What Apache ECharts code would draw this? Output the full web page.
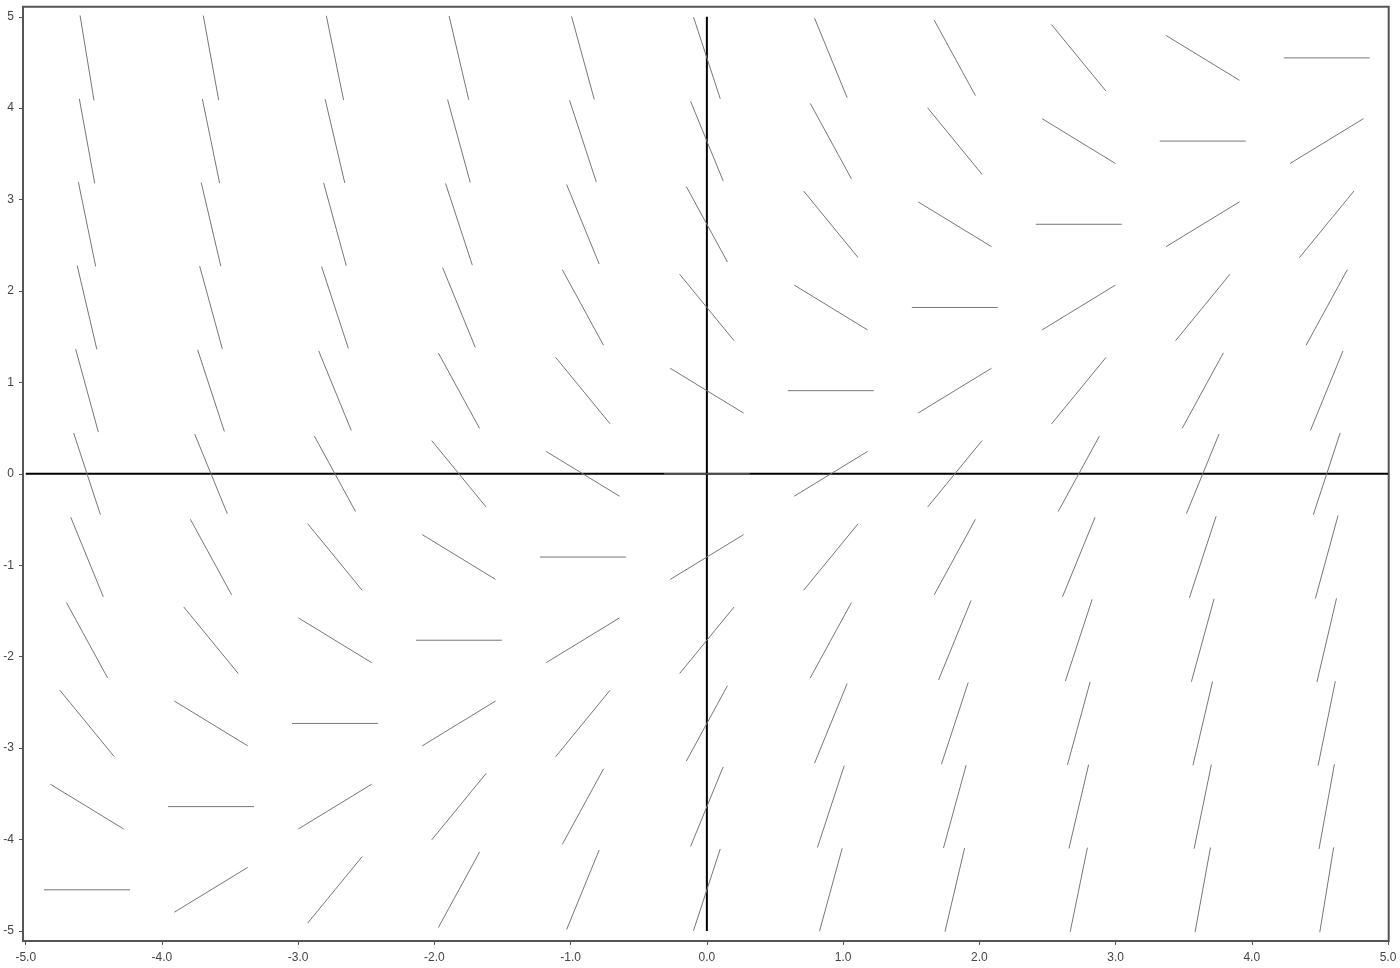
<!DOCTYPE html>
<html>
<head>
<meta charset="utf-8">
<script src="https://cdn.jsdelivr.net/npm/echarts@6/dist/echarts.min.js"></script>
<style>
html,body{margin:0;padding:0;background:#fff;}
#chart{width:1400px;height:968px;}
</style>
</head>
<body>
<div id="chart"></div>
<script>
// Grid sample positions (x across, y rows from top to bottom)
const gridX = [-4.55, -3.64, -2.73, -1.82, -0.91, 0, 0.91, 1.82, 2.73, 3.64, 4.55];
const gridY = [4.55, 3.64, 2.73, 1.82, 0.91, 0, -0.91, -1.82, -2.73, -3.64, -4.55];
// Slope read at each sample point; one row per gridY entry, one column per gridX entry
const slopes = [
  [-9.09, -8.18, -7.27, -6.36, -5.45, -4.55, -3.64, -2.73, -1.82, -0.91, 0],
  [-8.18, -7.27, -6.36, -5.45, -4.55, -3.64, -2.73, -1.82, -0.91, 0, 0.91],
  [-7.27, -6.36, -5.45, -4.55, -3.64, -2.73, -1.82, -0.91, 0, 0.91, 1.82],
  [-6.36, -5.45, -4.55, -3.64, -2.73, -1.82, -0.91, 0, 0.91, 1.82, 2.73],
  [-5.45, -4.55, -3.64, -2.73, -1.82, -0.91, 0, 0.91, 1.82, 2.73, 3.64],
  [-4.55, -3.64, -2.73, -1.82, -0.91, 0, 0.91, 1.82, 2.73, 3.64, 4.55],
  [-3.64, -2.73, -1.82, -0.91, 0, 0.91, 1.82, 2.73, 3.64, 4.55, 5.45],
  [-2.73, -1.82, -0.91, 0, 0.91, 1.82, 2.73, 3.64, 4.55, 5.45, 6.36],
  [-1.82, -0.91, 0, 0.91, 1.82, 2.73, 3.64, 4.55, 5.45, 6.36, 7.27],
  [-0.91, 0, 0.91, 1.82, 2.73, 3.64, 4.55, 5.45, 6.36, 7.27, 8.18],
  [0, 0.91, 1.82, 2.73, 3.64, 4.55, 5.45, 6.36, 7.27, 8.18, 9.09]
];
const xTicks = [-5, -4, -3, -2, -1, 0, 1, 2, 3, 4, 5];
const yTicks = [-5, -4, -3, -2, -1, 0, 1, 2, 3, 4, 5];
const xAxisLine = [[-5, 0], [5, 0]];
const yAxisLine = [[0, -5], [0, 5]];

const fieldData = [];
gridY.forEach((y, r) => {
  gridX.forEach((x, c) => {
    fieldData.push([x, y, slopes[r][c]]);
  });
});

const HALF = 43;
function renderSeg(params, api) {
  const x = api.value(0), y = api.value(1), m = api.value(2);
  const c = api.coord([x, y]);
  const p = api.coord([x + 1, y + m]);
  let dx = p[0] - c[0], dy = p[1] - c[1];
  const len = Math.sqrt(dx * dx + dy * dy) || 1;
  dx = dx / len * HALF; dy = dy / len * HALF;
  return {
    type: 'line',
    shape: { x1: c[0] - dx, y1: c[1] - dy, x2: c[0] + dx, y2: c[1] + dy },
    style: { stroke: '#777', lineWidth: 1 }
  };
}

const chart = echarts.init(document.getElementById('chart'));
chart.setOption({
  animation: false,
  backgroundColor: '#fff',
  grid: { left: 23, right: 11.3, top: 6.7, bottom: 27, show: true, borderColor: '#555', borderWidth: 2, backgroundColor: 'transparent' },
  xAxis: {
    type: 'value', min: -5.02, max: 5.005, position: 'bottom',
    axisLine: { show: false, onZero: false },
    splitLine: { show: false },
    axisTick: { show: true, customValues: xTicks, length: 4, lineStyle: { color: '#555' } },
    axisLabel: { customValues: xTicks, margin: 11, color: '#444', fontSize: 12, fontFamily: 'Arial, Liberation Sans, sans-serif', formatter: v => v.toFixed(1) }
  },
  yAxis: {
    type: 'value', min: -5.11, max: 5.11, position: 'left',
    axisLine: { show: false, onZero: false },
    splitLine: { show: false },
    axisTick: { show: true, customValues: yTicks, length: 4, lineStyle: { color: '#555' } },
    axisLabel: { customValues: yTicks, margin: 9, color: '#444', fontSize: 12, fontFamily: 'Arial, Liberation Sans, sans-serif', formatter: v => String(v) }
  },
  series: [
    { type: 'line', data: xAxisLine, symbol: 'none', lineStyle: { color: '#000', width: 2 }, z: 2, silent: true },
    { type: 'line', data: yAxisLine, symbol: 'none', lineStyle: { color: '#000', width: 2 }, z: 3, silent: true },
    { type: 'custom', data: fieldData, renderItem: renderSeg, z: 5, silent: true }
  ]
});
</script>
</body>
</html>
